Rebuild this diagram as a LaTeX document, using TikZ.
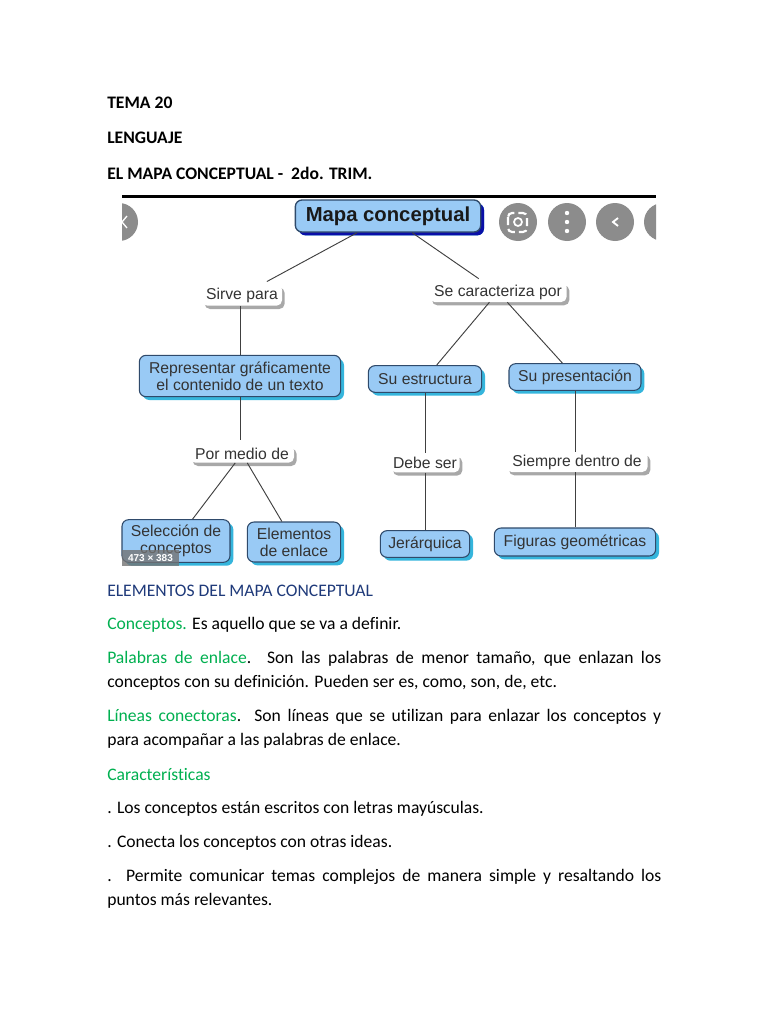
\documentclass[tikz,border=0pt]{standalone}
\usepackage{fontspec}
\setmainfont[Ligatures=NoCommon]{Carlito}
\setsansfont{Liberation Sans}
\usepackage{xcolor}
\usetikzlibrary{arrows.meta,positioning,shadows,calc}
\definecolor{MapBlue}{HTML}{99CAF5}
\definecolor{MapEdge}{HTML}{2F4A6B}
\definecolor{MapCyan}{HTML}{35B5DC}
\definecolor{MapNavy}{HTML}{0A0FA8}
\definecolor{MapGrey}{HTML}{8C8C8C}
\definecolor{LinkGrey}{HTML}{A8A8A8}
\definecolor{DocGreen}{HTML}{00B050}
\definecolor{DocBlue}{HTML}{1F3A7A}
\tikzset{
  concept/.style={draw=MapEdge, line width=0.8pt, rounded corners=5pt, fill=MapBlue, align=center, inner sep=0pt,
    font=\sffamily\fontsize{11.8}{12.6}\selectfont, text=black!80,
    general shadow={fill=MapCyan, shadow xshift=2.5pt, shadow yshift=-2.5pt}},
  linkword/.style={rounded corners=4pt, fill=white, inner sep=0pt, font=\sffamily\fontsize{11.8}{12.6}\selectfont, text=black!80,
    general shadow={fill=LinkGrey, shadow xshift=2pt, shadow yshift=-2.5pt}},
  maplink/.style={draw=black!75, line width=0.7pt},
  docline/.style={anchor=west, inner sep=0pt, font=\fontsize{13.2}{18}\selectfont},
  docpara/.style={docline, text width=415.5pt, align=justify},
  button/.style={circle, fill=MapGrey, minimum size=28.5pt, inner sep=0pt},
}
\begin{document}
\begin{tikzpicture}[x=0.75pt, y=-0.75pt]
\useasboundingbox (0,0) rectangle (768,1024);
\fill[white] (0,0) rectangle (768,1024);
% header
\node[docline, font=\fontsize{13.2}{18}\selectfont\bfseries] (tema) at (107,103) {TEMA 20};
\node[docline, font=\fontsize{13.2}{18}\selectfont\bfseries] (lenguaje) at (107,138) {LENGUAJE};
\node[docline, font=\fontsize{13.2}{18}\selectfont\bfseries] (titulo) at (107,173) {EL MAPA CONCEPTUAL -\ \ 2do. TRIM.};
% screenshot
\fill[black] (122,195) rectangle (656,198);
\begin{scope}
\clip (122,198) rectangle (656,566);
\node[button] (btnback) at (119,222) {};
\node[button] (btnlens) at (518,222) {};
\node[button] (btnmenu) at (567,222) {};
\node[button] (btnprev) at (615,222) {};
\node[button] (btnnext) at (663,222) {};
\end{scope}
\draw[white, line width=1pt] (127,216) -- (122,222) -- (127,228);
\draw[white, line width=1.6pt, dash pattern=on 6pt off 3pt, rounded corners=3pt] (508,213) rectangle (527,232);
\fill[MapGrey] (518,222) circle (7);
\draw[white, line width=1.3pt] (518,222) circle (4);
\foreach \yy in {213,222,231} \fill[white] (567,\yy) circle (2.2);
\draw[white, line width=1.4pt] (618,218) -- (613,222) -- (618,226);
% map
\node[concept, minimum width=139pt, minimum height=24pt, line width=1pt, font=\sffamily\fontsize{15.2}{17}\selectfont\bfseries, text=black!90,
  general shadow={fill=MapNavy, shadow xshift=2.5pt, shadow yshift=-2.5pt}] (mapa) at (388,216) {Mapa conceptual};
\node[linkword, minimum width=60pt, minimum height=16pt] (sirve) at (242,295) {Sirve para};
\node[linkword, minimum width=103pt, minimum height=15pt] (caracteriza) at (498,292) {Se caracteriza por};
\node[concept, minimum width=151pt, minimum height=31pt] (representar) at (240,376) {Representar gráficamente\\el contenido de un texto};
\node[concept, minimum width=85pt, minimum height=20pt] (estructura) at (425,379) {Su estructura};
\node[concept, minimum width=99pt, minimum height=20pt] (presentacion) at (575,377) {Su presentación};
\node[linkword, minimum width=78pt, minimum height=13pt] (medio) at (242,454) {Por medio de};
\node[linkword, minimum width=52pt, minimum height=14pt] (debe) at (425,463) {Debe ser};
\node[linkword, minimum width=106pt, minimum height=15pt] (siempre) at (577,462) {Siempre dentro de};
\node[concept, minimum width=81pt, minimum height=32pt] (seleccion) at (176,541) {Selección de\\conceptos};
\node[concept, minimum width=70pt, minimum height=30pt] (elementos) at (294,542) {Elementos\\de enlace};
\node[concept, minimum width=67pt, minimum height=20pt] (jerarquica) at (425,544) {Jerárquica};
\node[concept, minimum width=121pt, minimum height=21pt] (figuras) at (575,542) {Figuras geométricas};
\draw[maplink, shorten >=4pt] (mapa)--(sirve);
\draw[maplink, shorten >=4pt] (mapa)--(caracteriza);
\draw[maplink] (representar |- sirve.south)--(representar);
\draw[maplink] (caracteriza)--(estructura);
\draw[maplink] (caracteriza)--(presentacion);
\draw[maplink, shorten >=4pt] (representar)--(representar |- medio.north);
\draw[maplink] (medio)--(seleccion);
\draw[maplink] (medio)--(elementos);
\draw[maplink] (estructura)--(debe);
\draw[maplink] (debe)--(jerarquica);
\draw[maplink] (presentacion)--(presentacion |- siempre.north);
\draw[maplink] (presentacion |- siempre.south)--(figuras);
\node[fill=black!55, fill opacity=0.8, text opacity=1, text=white, inner sep=0pt, minimum width=43pt, minimum height=12pt, font=\sffamily\fontsize{7.5}{9}\selectfont\bfseries] (tamano) at (150.5,558) {473 × 383};
% document text
\node[docline, text=DocBlue] (elementosdoc) at (107,591) {ELEMENTOS DEL MAPA CONCEPTUAL};
\node[docline] (conceptos) at (107,625) {\textcolor{DocGreen}{Conceptos.} Es aquello que se va a definir.};
\node[docpara] (palabras) at (107,671) {\textcolor{DocGreen}{Palabras de enlace}. Son las palabras de menor tamaño, que enlazan los\linebreak conceptos con su definición. Pueden ser es, como, son, de, etc.};
\node[docpara] (lineas) at (107,729) {\textcolor{DocGreen}{Líneas conectoras}. Son líneas que se utilizan para enlazar los conceptos y\linebreak para acompañar a las palabras de enlace.};
\node[docline, text=DocGreen] (caracteristicas) at (107,775) {Características};
\node[docline] (mayusculas) at (107,809) {. Los conceptos están escritos con letras mayúsculas.};
\node[docline] (conecta) at (107,843) {. Conecta los conceptos con otras ideas.};
\node[docpara] (permite) at (107,889) {. Permite comunicar temas complejos de manera simple y resaltando los\linebreak puntos más relevantes.};
\end{tikzpicture}
\end{document}
